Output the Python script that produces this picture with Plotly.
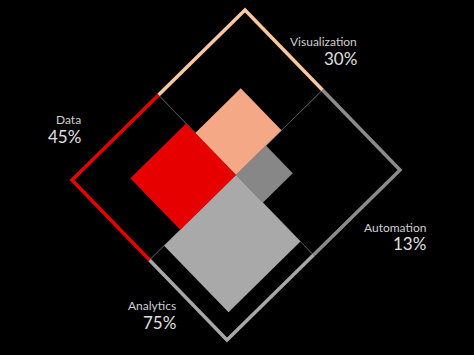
import numpy as np
import plotly.graph_objects as go

# ---- data ----
categories = ["Visualization", "Automation", "Analytics", "Data"]
values = [30, 13, 75, 45]
value_labels = ["30%", "13%", "75%", "45%"]

# ---- style ----
fill_colors = ["#F4A886", "#878787", "#A9A9A9", "#E60000"]
outline_colors = ["#F9C89C", "#8C8C8C", "#A8A8A8", "#E60000"]
quad_signs = [(1, 1), (1, -1), (-1, -1), (-1, 1)]   # (a, b) direction of each quadrant
center = np.array([236.0, 175.0])                    # pixel frame
axis_a = np.array([86.5, -85.0])
axis_b = np.array([-77.5, -80.0])
inner_scale = 0.96
# label anchors (right edge x, name y, value y)
label_pos = [(359, 41, 58), (428, 227, 243), (178, 305, 322), (83, 119, 136)]

fig = go.Figure()

# thin inner quadrant edges
for sa, sb in quad_signs:
    for vec in (sa * axis_a, sb * axis_b):
        p = center + vec
        fig.add_trace(go.Scatter(x=[center[0], p[0]], y=[center[1], p[1]], mode="lines",
                                 line=dict(color="#4a4a4a", width=1), hoverinfo="skip",
                                 showlegend=False))

# value squares (area proportional to value)
for (sa, sb), val, col, name in zip(quad_signs, values, fill_colors, categories):
    s = inner_scale * np.sqrt(val / 100.0)
    u = sa * axis_a * s
    v = sb * axis_b * s
    pts = [center, center + u, center + u + v, center + v, center]
    fig.add_trace(go.Scatter(x=[p[0] for p in pts], y=[p[1] for p in pts], mode="lines",
                             fill="toself", fillcolor=col, line=dict(width=0, color=col),
                             name=name, showlegend=False))

# outer outlines
for (sa, sb), col in zip(quad_signs, outline_colors):
    u = sa * axis_a
    v = sb * axis_b
    pts = [center + v, center + u + v, center + u]
    fig.add_trace(go.Scatter(x=[p[0] for p in pts], y=[p[1] for p in pts], mode="lines",
                             line=dict(color=col, width=3.5), hoverinfo="skip",
                             showlegend=False))

for (xr, yn, yv), name, lab in zip(label_pos, categories, value_labels):
    fig.add_annotation(x=xr, y=yn, text=name, showarrow=False, xanchor="right", yanchor="middle",
                       font=dict(family="Lato", size=12, color="#D0D0D0"))
    fig.add_annotation(x=xr, y=yv, text=lab, showarrow=False, xanchor="right", yanchor="middle",
                       font=dict(family="Lato", size=17, color="#E0E0E0"))

fig.update_layout(
    width=474, height=355, margin=dict(l=0, r=0, t=0, b=0),
    paper_bgcolor="black", plot_bgcolor="black",
    xaxis=dict(range=[0, 474], visible=False, fixedrange=True),
    yaxis=dict(range=[355, 0], visible=False, fixedrange=True),
)

fig.write_html("out.html", config={"displayModeBar": False},
               post_script="document.body.style.margin='0';document.body.style.background='black';")
